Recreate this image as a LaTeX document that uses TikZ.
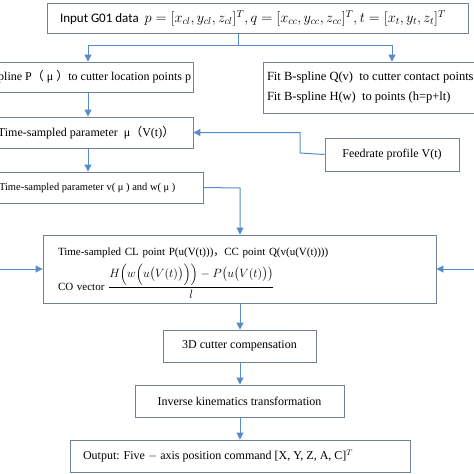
\documentclass[tikz,border=0pt]{standalone}
\usepackage{amsmath}
\usepackage{fontspec}
\setmainfont{Liberation Serif}
\newfontfamily\calib{Carlito}
\newfontfamily\cjk{Noto Sans CJK SC}
\usetikzlibrary{arrows.meta}
\definecolor{boxc}{RGB}{112,130,150}
\definecolor{arrc}{RGB}{88,140,200}
\begin{document}
\begin{tikzpicture}[x=1pt,y=-1pt,
  box/.style={draw=boxc, line width=0.9pt, inner ysep=0pt, minimum height=#1, font=\fontsize{12}{14}\selectfont},
  ln/.style={draw=arrc, line width=1pt},
  arr/.style={draw=arrc, line width=1pt, -{Triangle[length=7pt,width=7pt]}}]
\useasboundingbox (0,0) rectangle (474,474);
\clip (0,0) rectangle (474,474);
\fill[white] (0,0) rectangle (474,474);

\node[box=30pt, inner xsep=13pt, font=\fontsize{13}{15}\selectfont] (top) at (257.5,18)
  {\makebox[395pt][l]{\calib Input G01 data\ \ {\fontsize{14}{16}\selectfont$p=[x_{cl},y_{cl},z_{cl}]^T, q=[x_{cc},y_{cc},z_{cc}]^T, t=[x_t,y_t,z_t]^T$}}};

\node[box=30pt, inner xsep=2pt] (b1) at (88,77)
  {\makebox[206pt][r]{Fit B-spline P{\cjk （} μ {\cjk ）}to cutter location points p}};

\node[box=51pt, inner xsep=4pt, align=left, font=\fontsize{12.5}{20}\selectfont] (rb) at (376.5,87.5)
  {\makebox[219pt][l]{Fit B-spline Q(v)\ \ to cutter contact points}\\\makebox[219pt][l]{Fit B-spline H(w)\ \ to points (h=p+lt)}};

\node[box=31pt, inner xsep=15pt] (b2) at (88,132.5)
  {\makebox[180pt][l]{Time-sampled parameter\ \ μ{\cjk （}V(t){\cjk ）}}};

\node[box=33pt, minimum width=134pt] (feed) at (392,154.5) {Feedrate profile V(t)};

\node[box=31pt, inner xsep=26pt, font=\fontsize{10.5}{12}\selectfont] (b3) at (88,187.5)
  {\makebox[178pt][l]{Time-sampled parameter v( μ ) and w( μ )}};

\node[box=68pt, inner xsep=15pt, text width=363pt, align=left, font=\fontsize{11}{13}\selectfont] (big) at (239.5,269)
  {\rule{0pt}{16pt}Time-sampled CL point P(u(V(t))){\cjk ，}CC point Q(v(u(V(t))))\\[5pt]
   CO vector {\fontsize{12}{14}\selectfont$\dfrac{H\Big(w\Big(u\big(V(t)\big)\Big)\Big)-P\big(u\big(V(t)\big)\big)}{l}$}};

\node[box=32pt, minimum width=153pt] (comp) at (239.5,346) {3D cutter compensation};
\node[box=32pt, minimum width=209pt] (inv) at (239.5,401) {Inverse kinematics transformation};
\node[box=32pt, inner xsep=13pt] (out) at (240,456)
  {\makebox[314pt][l]{Output: Five $-$ axis position command [X, Y, Z, A, C]$^{T}$}};

\coordinate (split) at (238,45);
\coordinate (sl) at (88,45);
\coordinate (sr) at (392,45);
\coordinate (fk) at (300,153);
\coordinate (cb) at (240,188);
\coordinate (lin) at (0,269);
\coordinate (rin) at (474,269);

\draw[ln] (top.south -| split) -- (split);
\draw[ln] (sl) -- (sr);
\draw[arr] (sl) -- (b1.north -| sl);
\draw[arr] (sr) -- (rb.north -| sr);
\draw[arr] (b1) -- (b2);
\draw[arr] (b2) -- (b3);
\draw[arr] (feed.west) -- (fk) -- (fk |- b2.east) -- (b2.east);
\draw[arr] (b3.east) -- (cb) -- (big.north -| cb);
\draw[arr] (lin) -- (big.west);
\draw[arr] (rin) -- (big.east);
\draw[arr] (big.south -| cb) -- (comp.north -| cb);
\draw[arr] (comp.south -| cb) -- (inv.north -| cb);
\draw[arr] (inv.south -| cb) -- (out.north -| cb);
\end{tikzpicture}
\end{document}
